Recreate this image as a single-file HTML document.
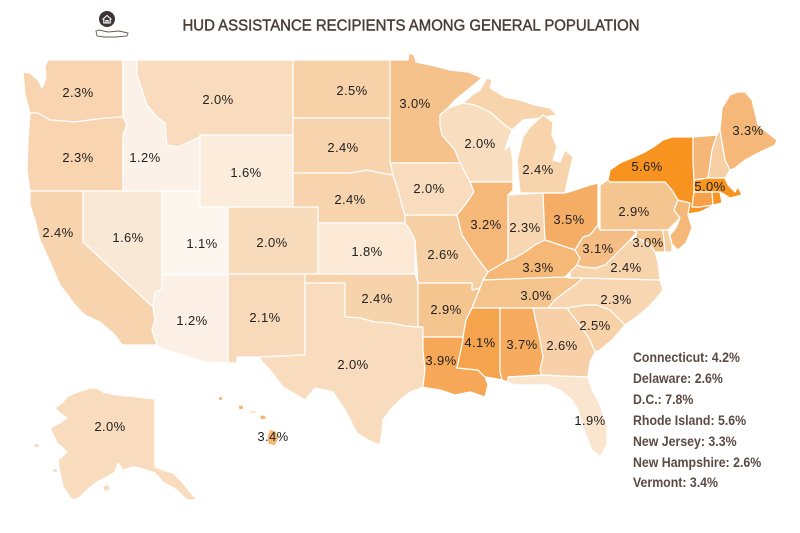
<!DOCTYPE html>
<html><head><meta charset="utf-8"><style>
html,body{margin:0;padding:0;background:#fff;}
svg{display:block;}
.s{stroke:#fff;stroke-width:1.2;stroke-linejoin:round;}
.l{font-family:"Liberation Sans",sans-serif;font-size:13px;fill:#222;text-anchor:middle;letter-spacing:0.4px;}
.g{font-family:"Liberation Sans",sans-serif;font-size:13.5px;font-weight:bold;fill:#5b4b43;}
</style></head><body>
<svg width="800" height="533" viewBox="0 0 800 533" xmlns="http://www.w3.org/2000/svg">
<rect width="800" height="533" fill="#fff"/>
<!-- icon -->
<circle cx="107" cy="19" r="8" fill="#3d3535"/>
<path d="M102.5 19.5 L107 15.5 L111.5 19.5 M103.8 18.6 V23 H110.2 V18.6 M106 23 V20.5 H108 V23" fill="none" stroke="#fff" stroke-width="1.1"/>
<path d="M96 31 L99 30 L108 32 L119 31 L128 33 L127 36 L116 37 L104 37 L97 36 Z" fill="none" stroke="#6b5a50" stroke-width="0.9"/>
<text x="182.5" y="30.5" textLength="457" lengthAdjust="spacingAndGlyphs" style="font-family:'Liberation Sans',sans-serif;font-size:16px;fill:#4b3d35;stroke:#4b3d35;stroke-width:0.45">HUD ASSISTANCE RECIPIENTS AMONG GENERAL POPULATION</text>

<g class="s">
<!-- WA --><polygon fill="#f8d5b0" points="48,60 123,60 123,117 105,118 90,120 75,122 50,120 38,113 30,113 25,95 23,72 30,73 38,80 42,88 46,78 45,66"/>
<!-- OR --><polygon fill="#f8d5b0" points="30,113 38,113 50,120 75,122 90,120 105,118 123,117 127,125 123,135 123,191 30,191 27,170 28,140"/>
<!-- CA --><polygon fill="#f7d4ae" points="30,191 83,191 83,242 153,307 155,320 152,330 157,345 122,345 115,335 100,322 85,315 75,305 60,285 50,262 40,240 35,220 30,205"/>
<!-- NV --><polygon fill="#fae8d6" points="83,191 162,191 162,290 155,292 153,307 83,242"/>
<!-- ID --><polygon fill="#fcf1e8" points="123,60 137,60 137,75 147,105 157,117 165,123 167,145 178,147 200,137 200,191 123,191 123,135 127,125 123,117"/>
<!-- MT --><polygon fill="#f8dcbd" points="137,60 293,60 293,135 200,135 200,137 178,147 167,145 165,123 157,117 147,105 137,75"/>
<!-- WY --><polygon fill="#fbecdc" points="200,135 293,135 293,207 200,207"/>
<!-- UT --><polygon fill="#fdf6ef" points="162,191 200,191 200,207 228,207 228,275 162,275"/>
<!-- AZ --><polygon fill="#fcf0e6" points="162,275 228,275 228,363 205,362 160,348 157,345 152,330 155,320 153,307 155,292 162,290"/>
<!-- CO --><polygon fill="#f8dbbb" points="228,207 318,207 318,274 228,274"/>
<!-- NM --><polygon fill="#f8dabb" points="228,274 305,274 305,355 258,357 237,357 237,363 228,363"/>
<!-- ND --><polygon fill="#f7d1a8" points="293,60 390,60 390,118 293,118"/>
<!-- SD --><polygon fill="#f7d4ae" points="293,118 390,118 390,160 393,175 380,173 368,170 350,173 293,173"/>
<!-- NE --><polygon fill="#f7d4ae" points="293,173 350,173 368,170 380,173 393,175 398,190 402,205 405,215 405,223 318,223 318,207 293,207"/>
<!-- KS --><polygon fill="#fbe9d6" points="318,223 405,223 410,230 415,240 415,274 318,274"/>
<!-- OK --><polygon fill="#f7d3ac" points="305,274 415,274 418,283 418,327 405,326 390,323 375,322 360,318 345,317 345,283 305,283"/>
<!-- TX --><polygon fill="#f8dcbd" points="305,283 345,283 345,317 360,318 375,322 390,323 405,326 418,327 423,327 423,337 423,350 425,370 423,387 410,392 400,400 390,410 383,420 382,432 380,445 368,440 357,433 345,410 333,392 315,388 305,400 295,394 283,387 270,370 258,357 305,355"/>
<!-- MN --><polygon fill="#f5c28c" points="390,60 408,60 409,53 414,55 416,62 435,66 450,70 468,72 482,78 470,88 455,100 448,108 440,115 440,125 442,135 455,150 460,163 390,163 390,118"/>
<!-- IA --><polygon fill="#f8dcbd" points="390,163 460,163 470,182 474,192 465,205 457,215 405,215 402,205 398,190 393,175 390,160"/>
<!-- MO --><polygon fill="#f6cfa4" points="405,215 457,215 462,235 475,255 485,268 488,272 483,280 480,288 472,290 472,283 418,283 415,240 410,230 405,223"/>
<!-- AR --><polygon fill="#f5c590" points="418,283 472,283 472,290 480,288 476,298 472,308 466,320 463,337 423,337 423,327 418,327"/>
<!-- LA --><polygon fill="#f6a858" points="423,337 463,337 463,340 457,368 478,370 485,377 488,385 485,397 470,392 455,395 440,390 427,388 423,387 425,370 423,350"/>
<!-- WI --><polygon fill="#f8ddbf" points="440,115 448,108 463,103 475,105 490,112 505,125 512,130 508,140 505,150 510,145 513,160 513,182 470,182 460,163 455,150 442,135 440,125"/>
<!-- MI UP --><polygon fill="#f8d4ad" points="463,103 472,95 480,90 487,78 492,80 490,88 505,97 520,100 535,105 550,108 557,115 540,118 523,120 512,130 505,125 490,112 475,105"/>
<!-- MI LP --><polygon fill="#f8d4ad" points="520,193 517,160 523,137 530,127 543,115 553,122 552,135 557,147 553,160 560,162 565,150 573,157 570,170 567,183 565,193"/>
<!-- IL --><polygon fill="#f5b878" points="470,182 513,182 513,190 508,195 508,258 505,262 498,266 488,272 485,268 475,255 462,235 457,215 465,205 474,192"/>
<!-- IN --><polygon fill="#f8d6b1" points="508,195 543,193 545,240 535,245 525,252 515,258 505,262 508,258"/>
<!-- OH --><polygon fill="#f5ad66" points="543,193 565,193 575,190 590,185 598,183 598,225 590,235 583,237 575,250 560,245 545,240"/>
<!-- KY --><polygon fill="#f5b877" points="488,272 498,266 505,262 515,258 525,252 535,245 545,240 560,245 575,250 580,258 577,265 570,272 565,277 483,280"/>
<!-- TN --><polygon fill="#f5c48d" points="483,280 565,277 570,278 583,278 575,285 565,292 555,300 548,308 472,308 476,298 480,288"/>
<!-- MS --><polygon fill="#f6a34e" points="472,308 500,308 500,372 502,380 492,378 485,377 478,370 457,368 463,340 463,337 466,320"/>
<!-- AL --><polygon fill="#f6ab5e" points="500,308 533,308 540,340 543,357 540,370 542,375 508,377 508,382 502,380 500,372"/>
<!-- GA --><polygon fill="#f7d0a7" points="533,308 548,308 567,308 572,315 580,325 590,340 595,352 590,362 588,377 560,376 542,375 540,370 543,357 540,340"/>
<!-- FL --><polygon fill="#fae5cf" points="508,377 542,375 560,376 588,377 592,390 600,405 607,425 607,445 600,457 592,450 588,440 582,425 578,410 572,400 560,390 548,385 530,385 515,385 508,382"/>
<!-- SC --><polygon fill="#f7d1a8" points="567,308 585,305 597,305 610,310 625,325 612,340 600,350 595,352 590,340 580,325 572,315"/>
<!-- NC --><polygon fill="#f8d6b1" points="548,308 555,300 565,292 575,285 583,278 660,280 663,290 655,300 645,310 635,318 625,325 610,310 597,305 585,305 567,308"/>
<!-- VA --><polygon fill="#f8d4ad" points="570,272 577,265 583,267 595,268 605,265 612,258 620,250 628,242 635,238 642,240 650,245 655,252 658,262 660,280 583,278 570,278"/>
<!-- WV --><polygon fill="#f5bd84" points="575,250 583,237 590,235 598,225 600,230 632,230 637,232 628,242 620,250 612,258 605,265 595,268 583,267 577,265 580,258"/>
<!-- MD --><polygon fill="#f5c28a" points="632,230 663,230 665,252 660,252 655,252 650,245 642,240 635,238 637,232"/>
<!-- DE --><polygon fill="#f7cfa5" points="663,230 668,230 672,245 672,252 665,252"/>
<!-- PA --><polygon fill="#f5c590" points="600,185 608,180 610,182 665,182 672,190 678,200 674,210 680,218 672,226 668,230 600,230"/>
<!-- NJ --><polygon fill="#f5b878" points="678,200 690,203 688,215 692,228 686,243 678,250 672,244 670,235 676,228 680,218 674,210"/>
<!-- NY --><polygon fill="#f7931e" points="608,180 610,170 620,163 632,158 645,152 655,146 663,140 672,137 693,137 693,160 694,180 694,192 692,207 700,207 712,202 714,205 700,212 688,214 690,203 678,200 672,190 665,182 610,182"/>
<!-- VT --><polygon fill="#f5b676" points="693,137 717,135 712,150 710,165 708,178 694,180 693,160"/>
<!-- NH --><polygon fill="#f7cfa5" points="717,135 720,130 725,160 730,170 725,178 708,178 710,165 712,150"/>
<!-- ME --><polygon fill="#f5b878" points="720,130 722,108 730,95 738,92 745,92 752,100 758,125 768,133 777,140 775,145 760,152 745,160 735,168 730,170 725,160"/>
<!-- MA --><polygon fill="#f7951f" points="694,180 708,178 725,178 728,185 735,192 738,187 742,195 730,198 722,193 712,192 694,192"/>
<!-- CT --><polygon fill="#f6a04a" points="694,192 712,192 713,205 700,207 692,207"/>
<!-- RI --><polygon fill="#f7931e" points="712,192 720,192 722,203 713,205"/>
<!-- AK --><polygon fill="#f8dcbd" points="67,397 75,393 90,388 97,388 103,392 117,395 155,399 155,467 163,470 173,473 182,482 190,492 197,500 187,500 177,490 163,482 155,473 140,468 133,467 123,470 118,463 115,472 107,477 97,482 87,490 80,497 73,500 70,497 63,487 60,473 58,460 67,452 62,447 57,443 50,428 60,423 67,418 60,413 55,408 62,403"/>
<polygon fill="#f8dcbd" points="33,444 38,443 40,447 35,448"/>
<polygon fill="#f8dcbd" points="52,469 57,468 58,472 53,473"/>
<polygon fill="#f8dcbd" points="103,486 109,484 110,490 104,492"/>
<!-- HI -->
<polygon fill="#f5b676" points="218,397 222,396 223,400 219,401"/>
<polygon fill="#f5b676" points="238,405 243,405 244,409 239,410"/>
<polygon fill="#f5b676" points="250,411 256,411 256,413 250,413"/>
<polygon fill="#f5b676" points="259,415 265,415 267,419 261,420"/>
<polygon fill="#f5b676" points="270,429 276,431 279,438 275,446 268,444 267,436"/>
</g>

<g class="l">
<text x="78" y="97">2.3%</text>
<text x="78" y="162">2.3%</text>
<text x="58" y="237">2.4%</text>
<text x="128" y="242">1.6%</text>
<text x="145" y="162">1.2%</text>
<text x="218" y="104">2.0%</text>
<text x="246" y="177">1.6%</text>
<text x="202" y="248">1.1%</text>
<text x="192" y="325">1.2%</text>
<text x="272" y="247">2.0%</text>
<text x="265" y="322">2.1%</text>
<text x="352" y="95">2.5%</text>
<text x="343" y="152">2.4%</text>
<text x="350" y="204">2.4%</text>
<text x="367" y="256">1.8%</text>
<text x="377" y="303">2.4%</text>
<text x="353" y="369">2.0%</text>
<text x="415" y="108">3.0%</text>
<text x="429" y="193">2.0%</text>
<text x="443" y="259">2.6%</text>
<text x="446" y="314">2.9%</text>
<text x="441" y="365">3.9%</text>
<text x="480" y="148">2.0%</text>
<text x="486" y="229">3.2%</text>
<text x="480" y="347">4.1%</text>
<text x="522" y="349">3.7%</text>
<text x="536" y="300">3.0%</text>
<text x="538" y="272">3.3%</text>
<text x="525" y="232">2.3%</text>
<text x="538" y="174">2.4%</text>
<text x="569" y="224">3.5%</text>
<text x="562" y="350">2.6%</text>
<text x="595" y="330">2.5%</text>
<text x="616" y="304">2.3%</text>
<text x="590" y="425">1.9%</text>
<text x="598" y="253">3.1%</text>
<text x="626" y="272">2.4%</text>
<text x="648" y="247">3.0%</text>
<text x="634" y="216">2.9%</text>
<text x="647" y="171">5.6%</text>
<text x="710" y="191">5.0%</text>
<text x="748" y="135">3.3%</text>
<text x="110" y="431">2.0%</text>
<text x="273" y="441">3.4%</text>
</g>

<g class="g" transform="translate(633,0) scale(0.915,1)">
<text x="0" y="362">Connecticut: 4.2%</text>
<text x="0" y="383">Delaware: 2.6%</text>
<text x="0" y="404">D.C.: 7.8%</text>
<text x="0" y="425">Rhode Island: 5.6%</text>
<text x="0" y="446">New Jersey: 3.3%</text>
<text x="0" y="467">New Hampshire: 2.6%</text>
<text x="0" y="487">Vermont: 3.4%</text>
</g>
</svg>
</body></html>
